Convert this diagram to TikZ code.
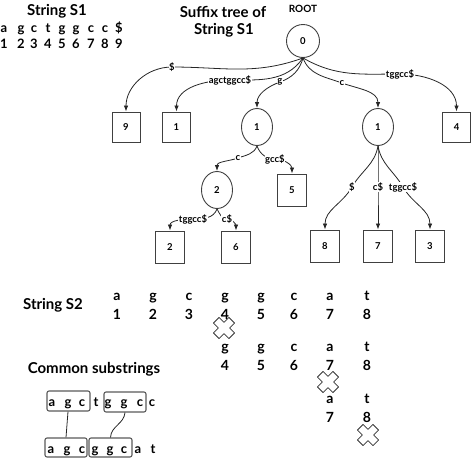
\documentclass[tikz,border=0pt]{standalone}
\usepackage{fontspec}
\setmainfont{Lato}
\usetikzlibrary{arrows.meta,shapes.geometric}
\begin{document}
\begin{tikzpicture}[x=1pt,y=-1pt,
  ttl/.style={font=\bfseries\fontsize{15}{15}\selectfont, inner sep=0pt, anchor=base},
  seqa/.style={font=\bfseries\fontsize{13}{13}\selectfont, inner sep=0pt, anchor=base},
  seqb/.style={font=\bfseries\fontsize{14}{14}\selectfont, inner sep=0pt, anchor=base},
  leaf/.style={draw=black!75, line width=0.9pt, fill=white, minimum width=29pt, minimum height=32pt, inner sep=0pt, font=\bfseries\fontsize{9.5}{9.5}\selectfont},
  leafa/.style={leaf, minimum width=28pt, minimum height=30pt},
  inode/.style={draw=black!75, line width=0.9pt, fill=white, ellipse, minimum width=31pt, minimum height=37pt, inner sep=0pt, font=\bfseries\fontsize{9.5}{9.5}\selectfont},
  conn/.style={draw=black!85, line width=0.8pt, -{Latex[length=6pt,width=4.5pt]}},
  plainc/.style={draw=black!85, line width=0.8pt},
  lbl/.style={fill=white, inner sep=0.6pt, font=\bfseries\fontsize{9.5}{9.5}\selectfont},
  sbox/.style={draw=black!65, line width=1.1pt, rounded corners=2pt, inner sep=0pt},
  xmark/.style={draw=black!80, line width=0.8pt, fill=white, line join=round},
]
\useasboundingbox (0,0) rectangle (474,458);

% ---- String S1
\node[ttl] (s1t) at (57,15) {String S1};
\foreach \x/\c/\n in {4/a/1, 21/g/2, 34/c/3, 48/t/4, 62/g/5, 76/g/6, 91/c/7, 105/c/8, 119/{\$}/9}{
  \node[seqa, name=s1c\n] at (\x,32) {\c};
  \node[seqa, name=s1n\n] at (\x,48) {\n};
}

% ---- Suffix tree titles
\node[ttl] (st1) at (223,17) {Suffix tree of};
\node[ttl] (st2) at (224,34) {String S1};
\node[font=\bfseries\fontsize{10}{10}\selectfont, anchor=base, inner sep=0pt] (rootl) at (303,12) {ROOT};

% ---- tree nodes
\node[inode, ellipse, minimum width=33pt, minimum height=33pt] (root) at (303,41) {0};
\node[leafa] (n9) at (126,127) {9};
\node[leafa] (n1) at (176.5,127) {1};
\node[inode] (c1) at (257,127) {1};
\node[inode] (cr) at (378,127) {1};
\node[leafa] (n4) at (456.5,127) {4};
\node[inode] (c2) at (217,190) {2};
\node[leaf] (n5) at (292,190) {5};
\node[leaf] (n2) at (170,247) {2};
\node[leaf] (n6) at (236,247) {6};
\node[leaf] (n8) at (325,246) {8};
\node[leaf] (n7) at (378,246) {7};
\node[leaf] (n3) at (430,246) {3};

% label positions
\coordinate (l9) at (172,67);
\coordinate (l1) at (230,80);
\coordinate (lg) at (280,82);
\coordinate (lc) at (342,83);
\coordinate (l4) at (400,74);
\coordinate (lc2) at (238,158);
\coordinate (l5) at (275,159);
\coordinate (l2) at (193,219);
\coordinate (l6) at (227,219);
\coordinate (l8) at (352,187);
\coordinate (l7) at (378,187);
\coordinate (l3) at (403,187);

% edges
\draw[conn] (root.south) to[out=200,in=0] (l9) to[out=180,in=90] (n9.north);
\draw[conn] (root.south) to[out=235,in=0] (l1) to[out=180,in=90] (n1.north);
\draw[conn] (root.south) to[out=255,in=20] (lg) to[out=200,in=90] (c1.north);
\draw[conn] (root.south) to[out=290,in=160] (lc) to[out=-20,in=90] (cr.north);
\draw[conn] (root.south) to[out=330,in=180] (l4) to[out=0,in=90] (n4.north);
\draw[conn] (c1.south) to[out=250,in=20] (lc2) to[out=200,in=90] (c2.north);
\draw[conn] (c1.south) to[out=290,in=180] (l5) to[out=0,in=90] (n5.north);
\draw[conn] (c2.south) to[out=250,in=0] (l2) to[out=180,in=90] (n2.north);
\draw[conn] (c2.south) to[out=300,in=180] (l6) to[out=0,in=90] (n6.north);
\draw[conn] (cr.south) to[out=260,in=60] (l8) to[out=240,in=90] (n8.north);
\draw[conn] (cr.south) -- (l7) -- (n7.north);
\draw[conn] (cr.south) to[out=280,in=120] (l3) to[out=-60,in=90] (n3.north);

% edge labels
\node[lbl] (t9) at (l9) {\$};
\node[lbl] (t1) at (l1) {agctggcc\$};
\node[lbl] (tg) at (lg) {g};
\node[lbl] (tc) at (lc) {c};
\node[lbl] (t4) at (l4) {tggcc\$};
\node[lbl] (tc2) at (lc2) {c};
\node[lbl] (t5) at (l5) {gcc\$};
\node[lbl] (t2) at (l2) {tggcc\$};
\node[lbl] (t6) at (l6) {c\$};
\node[lbl] (t8) at (l8) {\$};
\node[lbl] (t7) at (l7) {c\$};
\node[lbl] (t3) at (l3) {tggcc\$};

% ---- String S2
\node[ttl] (s2t) at (53,309) {String S2};
\foreach \x/\c/\n in {117/a/1, 153/g/2, 189/c/3, 225/g/4, 261/g/5, 294/c/6, 330/a/7, 367/t/8}{
  \node[seqb, name=r1c\n] at (\x,300) {\c};
  \node[seqb, name=r1n\n] at (\x,319) {\n};
}
\foreach \x/\c/\n in {225/g/4, 261/g/5, 294/c/6, 330/a/7, 367/t/8}{
  \node[seqb, name=r2c\n] at (\x,351) {\c};
  \node[seqb, name=r2n\n] at (\x,370) {\n};
}
\foreach \x/\c/\n in {330/a/7, 367/t/8}{
  \node[seqb, name=r3c\n] at (\x,403) {\c};
  \node[seqb, name=r3n\n] at (\x,422) {\n};
}
\node[ttl] (cst) at (94,373) {Common substrings};

% crosses
\foreach \px/\py in {224/328, 328/382, 368/435}{
  \draw[xmark, shift={(\px,\py)}, rotate=45]
    (4,11) -- (4,4) -- (11,4) -- (11,-4) -- (4,-4) -- (4,-11) -- (-4,-11) -- (-4,-4)
    -- (-11,-4) -- (-11,4) -- (-4,4) -- (-4,11) -- cycle;
}

% ---- common substrings boxes
\node[sbox, minimum width=43pt, minimum height=20pt] (bA) at (68.5,401) {};
\node[sbox, minimum width=42pt, minimum height=20pt] (bB) at (125,402) {};
\node[sbox, minimum width=42pt, minimum height=19pt] (bC) at (66,447.5) {};
\node[sbox, minimum width=43pt, minimum height=19pt] (bD) at (110.5,447.5) {};
\foreach \x/\c/\n in {52/a/1, 68/g/2, 82/c/3, 96/t/4, 108/g/5, 124/g/6, 140/c/7, 152/c/8}{
  \node[seqa, name=ta\n] at (\x,406) {\c};
}
\foreach \x/\c/\n in {51/a/1, 67/g/2, 82/c/3, 95/g/4, 110/g/5, 124/c/6, 138/a/7, 153/t/8}{
  \node[seqa, name=tb\n] at (\x,453) {\c};
}
\draw[plainc] (bA.south) ++(-0.5,0) coordinate (pA) (pA) -- (bC.north);
\draw[plainc] (bB.south) .. controls (124,424) and (111,426) .. (bD.north);
\end{tikzpicture}
\end{document}
